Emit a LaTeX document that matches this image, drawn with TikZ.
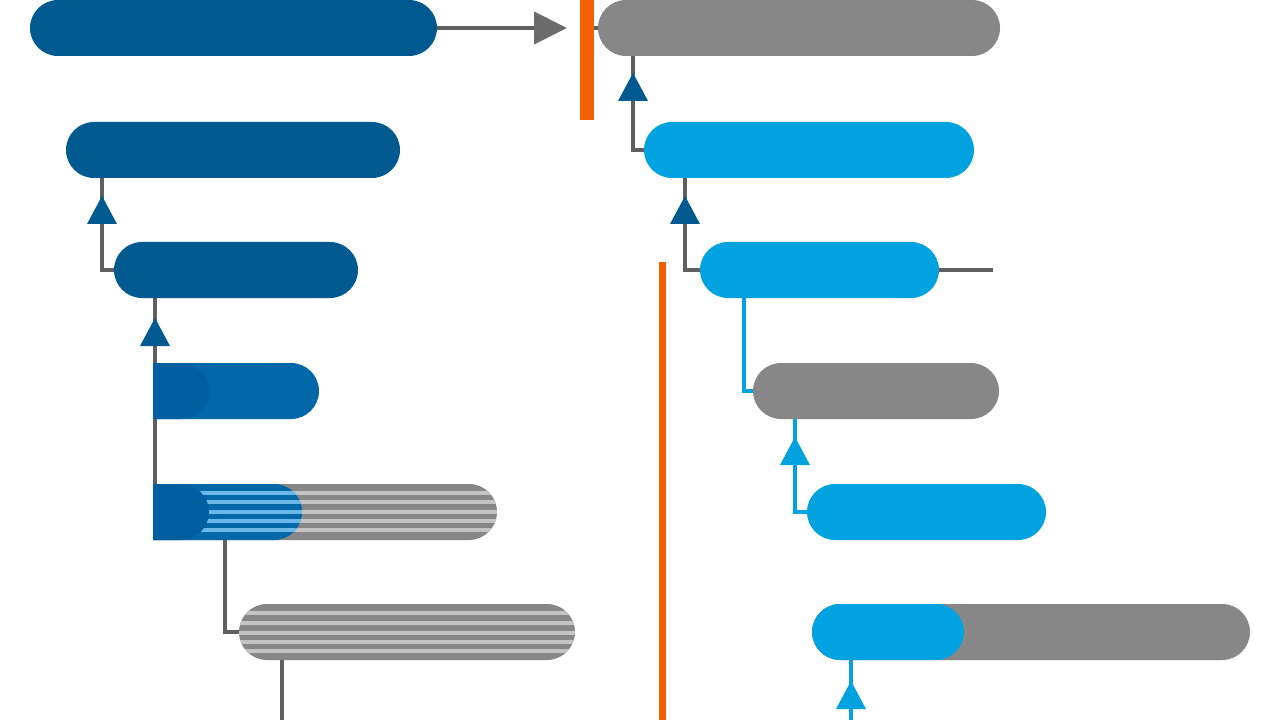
\documentclass[tikz,border=0pt]{standalone}
\usetikzlibrary{calc,backgrounds,arrows.meta,shapes.misc}
\definecolor{navy}{HTML}{005A8F}
\definecolor{midblue}{HTML}{0067A8}
\definecolor{deepblue}{HTML}{005F9E}
\definecolor{sky}{HTML}{00A3E0}
\definecolor{midgray}{HTML}{878787}
\definecolor{linegray}{HTML}{5F5F5F}
\definecolor{tipgray}{HTML}{6C6C6C}
\definecolor{flame}{HTML}{F26000}
\definecolor{stripeblue}{HTML}{6CB8EA}
\definecolor{stripegray}{HTML}{C4C4C4}
\tikzset{
  x=0.75pt,y=-0.75pt,
  barbox/.style={rectangle,inner sep=0pt,minimum height=42pt,rounded corners=21pt,anchor=north west,outer sep=0pt},
  flatbox/.style={rounded rectangle,rounded rectangle left arc=none,inner sep=0pt,minimum height=42pt,anchor=north west,outer sep=0pt},
  wide/.style={minimum width=#1*0.75pt},
  conn/.style={draw=linegray,line width=3pt},
  skyconn/.style={draw=sky,line width=3pt},
  flag/.style={fill=flame,inner sep=0pt,anchor=north west,outer sep=0pt},
  uptri/.pic={\fill[pic actions] (-15,0) -- (15,0) -- (0,-28) -- cycle;},
  stripes/.style 2 args={path picture={
    \foreach \dy in {9,18,28,37,46}{
      \fill[#1,sharp corners] ($(path picture bounding box.north west)+(#2,\dy-1.7)$) rectangle ++(500,3.4);}
  }},
  stripesB/.style={path picture={
    \foreach \dy in {9,19,29,38,47}{
      \fill[stripegray,sharp corners] ($(path picture bounding box.north west)+(0,\dy-1.7)$) rectangle ++(500,3.4);}
  }}
}
\begin{document}
\begin{tikzpicture}
\useasboundingbox (0,0) rectangle (1280,720);
% bars
\node[barbox,wide=407,fill=navy] (a1) at (30,0) {};
\node[barbox,wide=334,fill=navy] (a2) at (66,122) {};
\node[barbox,wide=244,fill=navy] (a3) at (114,242) {};
\node[flatbox,wide=166,fill=midblue] (a4) at (153,363) {};
\node[flatbox,wide=56,fill=deepblue] (a4d) at (153,363) {};
\node[flatbox,wide=344,fill=midgray,stripes={stripegray}{40}] (a5g) at (153,484) {};
\node[flatbox,wide=149,fill=midblue,stripes={stripeblue}{40}] (a5) at (153,484) {};
\node[flatbox,wide=56,fill=deepblue] (a5d) at (153,484) {};
\node[barbox,wide=336,fill=midgray,stripesB] (s2) at (239,604) {};
\node[barbox,wide=402,fill=midgray] (g1) at (598,0) {};
\node[barbox,wide=330,fill=sky] (b1) at (644,122) {};
\node[barbox,wide=239,fill=sky] (b2) at (700,242) {};
\node[barbox,wide=246,fill=midgray] (g2) at (753,363) {};
\node[barbox,wide=239,fill=sky] (b3) at (807,484) {};
\node[barbox,wide=438,fill=midgray] (g3) at (812,604) {};
\node[barbox,wide=152,fill=sky] (b4) at (812,604) {};
% free ends
\coordinate (endA) at (282,720);
\coordinate (endB) at (851,720);
\coordinate (endC) at (993,270);
\coordinate (tipA) at (567,28);
\coordinate (stubG) at (591,28);
% markers
\node[flag,minimum width=10.5pt,minimum height=90pt] (m1) at (580,0) {};
\node[flag,minimum width=5.25pt,minimum height=343.5pt] (m2) at (659,262) {};
% connectors under the bars
\begin{scope}[on background layer]
\fill[white] (0,0) rectangle (1280,720);
\draw[conn,-{Triangle[length=24.75pt,width=24pt,color=tipgray]}] (a1.east) -- (tipA);
\draw[conn] (g1.west) -- (stubG);
\draw[conn] (b1.west) -| ($(g1.south west)+(35,0)$);
\draw[conn] (b2.west) -| ($(b1.south west)+(41,0)$);
\draw[conn] (a3.west) -| ($(a2.south west)+(36,0)$);
\draw[conn] ($(a3.south west)+(41,0)$) -- ($(a5g.north west)+(2,2)$);
\draw[conn] (b2.east) -- (endC);
\draw[skyconn] ($(b2.south west)+(44,0)$) |- (g2.west);
\draw[skyconn] (b3.west) -| ($(g2.south west)+(42,0)$);
\draw[conn] (s2.west) -| ($(a5g.south west)+(72,0)$);
\draw[conn] ($(s2.south west)+(43,0)$) -- (endA);
\draw[skyconn] ($(b4.south west)+(39,0)$) -- (endB);
\end{scope}
% arrowheads
\pic[fill=navy] at ($(g1.south west)+(35,45)$) {uptri};
\pic[fill=navy] at ($(b1.south west)+(41,46)$) {uptri};
\pic[fill=navy] at ($(a2.south west)+(36,46)$) {uptri};
\pic[fill=navy] at ($(a3.south west)+(41,48)$) {uptri};
\pic[fill=sky] at ($(g2.south west)+(42,46)$) {uptri};
\pic[fill=sky] at ($(b4.south west)+(39,49)$) {uptri};
\end{tikzpicture}
\end{document}
